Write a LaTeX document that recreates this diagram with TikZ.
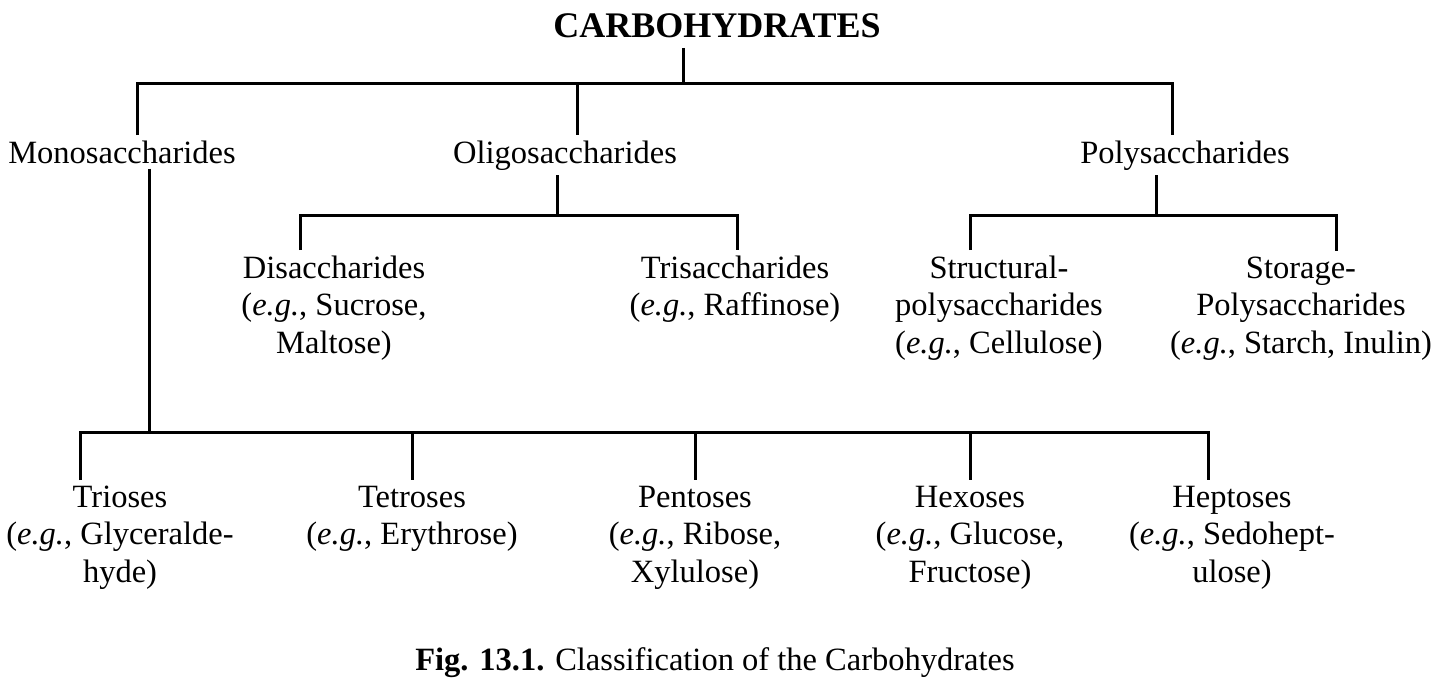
\documentclass[tikz,border=0pt]{standalone}
\usepackage{fontspec}
\setmainfont{Liberation Serif}
\usetikzlibrary{calc}

\begin{document}
\begin{tikzpicture}[x=0.5pt,y=-0.5pt,
	lbl/.style={anchor=base,inner sep=2.5pt,align=center,font=\fontsize{16.25pt}{18.75pt}\selectfont},
	bar/.style={line width=1.5pt}]
	
	\useasboundingbox (0,0) rectangle (1437,693);
	
	\node[anchor=base,inner sep=5pt,font=\fontsize{18pt}{20pt}\selectfont\bfseries] (carb) at (717,37) {CARBOHYDRATES};
	
	\node[lbl] (mono) at (122,163) {Monosaccharides};
	\node[lbl] (oligo) at (565,163) {Oligosaccharides};
	\node[lbl] (poly) at (1185,163) {Polysaccharides};
	
	% multi-line nodes sit on their last line
	\node[lbl] (di) at (334,353) {Disaccharides\\(\textit{e.g.}, Sucrose,\\Maltose)};
	\node[lbl] (tri) at (735,315.5) {Trisaccharides\\(\textit{e.g.}, Raffinose)};
	\node[lbl] (struct) at (999,353) {Structural-\\polysaccharides\\(\textit{e.g.}, Cellulose)};
	\node[lbl] (stor) at (1301,353) {Storage-\\Polysaccharides\\(\textit{e.g.}, Starch, Inulin)};
	
	\node[lbl] (trio) at (120,582) {Trioses\\(\textit{e.g.}, Glyceralde-\\hyde)};
	\node[lbl] (tetro) at (412,544.5) {Tetroses\\(\textit{e.g.}, Erythrose)};
	\node[lbl] (pento) at (695,582) {Pentoses\\(\textit{e.g.}, Ribose,\\Xylulose)};
	\node[lbl] (hexo) at (970,582) {Hexoses\\(\textit{e.g.}, Glucose,\\Fructose)};
	\node[lbl] (hepto) at (1232,582) {Heptoses\\(\textit{e.g.}, Sedohept-\\ulose)};
	
	\node[lbl] (caption) at (715,670) {\textbf{Fig. 13.1.} Classification of the Carbohydrates};
	
	% bar junctions
	\coordinate (topC) at (683,83);
	\coordinate (topL) at (137,83);
	\coordinate (topM) at (577,83);
	\coordinate (topR) at (1172,83);
	\coordinate (oliC) at (557,215);
	\coordinate (oliL) at (300,215);
	\coordinate (oliR) at (737,215);
	\coordinate (polC) at (1156,215);
	\coordinate (polL) at (970,215);
	\coordinate (polR) at (1336,215);
	\coordinate (monC) at (149,432);
	\coordinate (monL) at (80,432);
	\coordinate (monR) at (1208,432);
	
	\draw[bar] (carb.south -| topC) -- (topC);
	\draw[bar] (topL |- mono.north) -- (topL) -- (topR) -- (topR |- poly.north);
	\draw[bar] (topM) -- (topM |- oligo.north);
	
	\draw[bar] (oligo.south -| oliC) -- (oliC);
	\draw[bar] (oliL |- di.north) -- (oliL) -- (oliR) -- (oliR |- tri.north);
	
	\draw[bar] (poly.south -| polC) -- (polC);
	\draw[bar] (polL |- struct.north) -- (polL) -- (polR) -- (polR |- stor.north);
	
	\draw[bar] (mono.south -| monC) -- (monC);
	\draw[bar] (monL |- trio.north) -- (monL) -- (monR) -- (monR |- hepto.north);
	\foreach \n in {tetro,pento,hexo}
		\draw[bar] (\n.north |- monC) -- (\n.north);
	
\end{tikzpicture}
\end{document}
